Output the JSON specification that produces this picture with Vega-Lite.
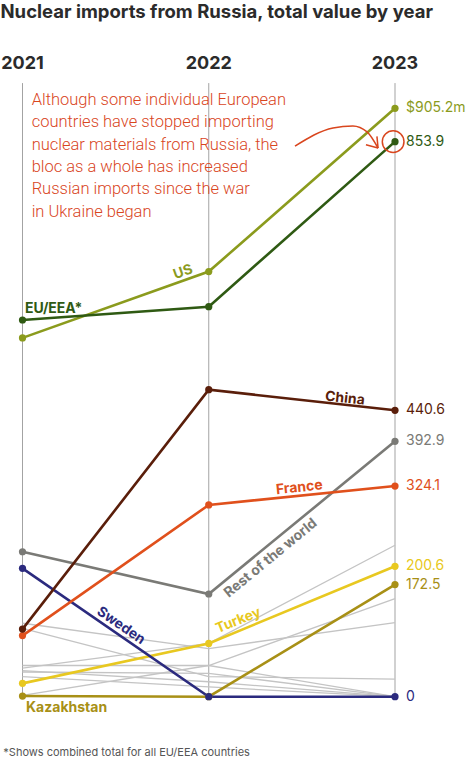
{
  "$schema": "https://vega.github.io/schema/vega-lite/v6.json",
  "width": 474,
  "height": 760,
  "autosize": {"type": "none"},
  "padding": 0,
  "config": {"view": {"stroke": null}, "font": "Inter"},
  "datasets": {
    "years": [{"year": 2021, "label": "2021"}, {"year": 2022, "label": "2022"}, {"year": 2023, "label": "2023"}],
    "others": [
      {"country": "o1", "year": 2021, "value": 113}, {"country": "o1", "year": 2022, "value": 74}, {"country": "o1", "year": 2023, "value": 114},
      {"country": "o2", "year": 2021, "value": 105}, {"country": "o2", "year": 2022, "value": 31}, {"country": "o2", "year": 2023, "value": 27},
      {"country": "o3", "year": 2021, "value": 48}, {"country": "o3", "year": 2022, "value": 48}, {"country": "o3", "year": 2023, "value": 0},
      {"country": "o4", "year": 2021, "value": 44}, {"country": "o4", "year": 2022, "value": 82}, {"country": "o4", "year": 2023, "value": 233},
      {"country": "o5", "year": 2021, "value": 38}, {"country": "o5", "year": 2022, "value": 36}, {"country": "o5", "year": 2023, "value": 0},
      {"country": "o6", "year": 2021, "value": 31}, {"country": "o6", "year": 2022, "value": 15}, {"country": "o6", "year": 2023, "value": 0},
      {"country": "o7", "year": 2021, "value": 2}, {"country": "o7", "year": 2022, "value": 48}, {"country": "o7", "year": 2023, "value": 151},
      {"country": "o8", "year": 2021, "value": 40}, {"country": "o8", "year": 2022, "value": 23}, {"country": "o8", "year": 2023, "value": 0}
    ],
    "lines": [
      {"country": "Kazakhstan", "year": 2021, "value": 1}, {"country": "Kazakhstan", "year": 2022, "value": 0}, {"country": "Kazakhstan", "year": 2023, "value": 172.5},
      {"country": "Turkey", "year": 2021, "value": 20.5}, {"country": "Turkey", "year": 2022, "value": 82}, {"country": "Turkey", "year": 2023, "value": 200.6},
      {"country": "Sweden", "year": 2021, "value": 197.5}, {"country": "Sweden", "year": 2022, "value": 0}, {"country": "Sweden", "year": 2023, "value": 0},
      {"country": "Rest of the world", "year": 2021, "value": 223}, {"country": "Rest of the world", "year": 2022, "value": 158}, {"country": "Rest of the world", "year": 2023, "value": 392.9},
      {"country": "France", "year": 2021, "value": 94}, {"country": "France", "year": 2022, "value": 295}, {"country": "France", "year": 2023, "value": 324.1},
      {"country": "China", "year": 2021, "value": 104}, {"country": "China", "year": 2022, "value": 472.3}, {"country": "China", "year": 2023, "value": 440.6},
      {"country": "US", "year": 2021, "value": 552}, {"country": "US", "year": 2022, "value": 654}, {"country": "US", "year": 2023, "value": 905.2},
      {"country": "EU/EEA", "year": 2021, "value": 579.5}, {"country": "EU/EEA", "year": 2022, "value": 600}, {"country": "EU/EEA", "year": 2023, "value": 853.9}
    ],
    "ends": [
      {"country": "US", "year": 2023, "value": 905.2, "label": "$905.2m"},
      {"country": "EU/EEA", "year": 2023, "value": 853.9, "label": "853.9"},
      {"country": "China", "year": 2023, "value": 440.6, "label": "440.6"},
      {"country": "Rest of the world", "year": 2023, "value": 392.9, "label": "392.9"},
      {"country": "France", "year": 2023, "value": 324.1, "label": "324.1"},
      {"country": "Turkey", "year": 2023, "value": 200.6, "label": "200.6"},
      {"country": "Kazakhstan", "year": 2023, "value": 172.5, "label": "172.5"},
      {"country": "Sweden", "year": 2023, "value": 0, "label": "0"}
    ]
  },
  "layer": [
    {
      "data": {"name": "years"},
      "mark": {"type": "rule", "color": "#a3a3a3", "strokeWidth": 1},
      "encoding": {
        "x": {"field": "year", "type": "quantitative", "scale": {"domain": [2021, 2023], "range": [22.5, 395], "nice": false, "zero": false}, "axis": null},
        "y": {"datum": 0, "type": "quantitative", "scale": {"domain": [0, 905.2], "range": [696.7, 108.3], "nice": false}, "axis": null},
        "y2": {"datum": 944}
      }
    },
    {
      "data": {"name": "years"},
      "mark": {"type": "text", "fontSize": 18, "fontWeight": "bold", "color": "#2b2b2b"},
      "encoding": {
        "x": {"field": "year", "type": "quantitative"},
        "y": {"datum": 974, "type": "quantitative"},
        "text": {"field": "label"}
      }
    },
    {
      "data": {"values": [{"text": "Nuclear imports from Russia, total value by year"}]},
      "mark": {"type": "text", "align": "left", "fontSize": 18.5, "fontWeight": "bold", "color": "#2b2b2b"},
      "encoding": {
        "x": {"datum": 2020.882, "type": "quantitative"},
        "y": {"datum": 1054, "type": "quantitative"},
        "text": {"field": "text"}
      }
    },
    {
      "data": {"name": "others"},
      "mark": {"type": "line", "color": "#c4c4c4", "strokeWidth": 1.3},
      "encoding": {
        "x": {"field": "year", "type": "quantitative"},
        "y": {"field": "value", "type": "quantitative"},
        "detail": {"field": "country"}
      }
    },
    {
      "data": {"name": "lines"},
      "mark": {"type": "line", "strokeWidth": 2.6},
      "encoding": {
        "x": {"field": "year", "type": "quantitative"},
        "y": {"field": "value", "type": "quantitative"},
        "color": {
          "field": "country",
          "type": "nominal",
          "legend": null,
          "scale": {
            "domain": ["US", "EU/EEA", "China", "Rest of the world", "France", "Turkey", "Kazakhstan", "Sweden"],
            "range": ["#8b9b1d", "#2f5a13", "#5a1e0a", "#7a7a76", "#e0501c", "#e8c820", "#a89016", "#2b2a7e"]
          }
        }
      }
    },
    {
      "data": {"name": "lines"},
      "mark": {"type": "circle", "size": 52, "opacity": 1},
      "encoding": {
        "x": {"field": "year", "type": "quantitative"},
        "y": {"field": "value", "type": "quantitative"},
        "color": {"field": "country", "type": "nominal", "legend": null}
      }
    },
    {
      "data": {"name": "ends"},
      "mark": {"type": "text", "align": "left", "dx": 11, "fontSize": 14},
      "encoding": {
        "x": {"field": "year", "type": "quantitative"},
        "y": {"field": "value", "type": "quantitative"},
        "text": {"field": "label"},
        "color": {"field": "country", "type": "nominal", "legend": null}
      }
    },
    {
      "data": {"values": [{"label": "US", "year": 2021.862, "value": 653}]},
      "mark": {"type": "text", "angle": -19.5, "fontSize": 14, "fontWeight": "bold", "color": "#8b9b1d"},
      "encoding": {"x": {"field": "year", "type": "quantitative"}, "y": {"field": "value", "type": "quantitative"}, "text": {"field": "label"}}
    },
    {
      "data": {"values": [{"label": "EU/EEA*", "year": 2021.013, "value": 597}]},
      "mark": {"type": "text", "align": "left", "fontSize": 14, "fontWeight": "bold", "color": "#2f5a13"},
      "encoding": {"x": {"field": "year", "type": "quantitative"}, "y": {"field": "value", "type": "quantitative"}, "text": {"field": "label"}}
    },
    {
      "data": {"values": [{"label": "China", "year": 2022.731, "value": 458.5}]},
      "mark": {"type": "text", "angle": 6, "fontSize": 14, "fontWeight": "bold", "color": "#5a1e0a"},
      "encoding": {"x": {"field": "year", "type": "quantitative"}, "y": {"field": "value", "type": "quantitative"}, "text": {"field": "label"}}
    },
    {
      "data": {"values": [{"label": "France", "year": 2022.486, "value": 321.5}]},
      "mark": {"type": "text", "angle": -6, "fontSize": 14, "fontWeight": "bold", "color": "#e0501c"},
      "encoding": {"x": {"field": "year", "type": "quantitative"}, "y": {"field": "value", "type": "quantitative"}, "text": {"field": "label"}}
    },
    {
      "data": {"values": [{"label": "Rest of the world", "year": 2022.333, "value": 213}]},
      "mark": {"type": "text", "angle": -39.5, "fontSize": 14, "fontWeight": "bold", "color": "#7a7a76"},
      "encoding": {"x": {"field": "year", "type": "quantitative"}, "y": {"field": "value", "type": "quantitative"}, "text": {"field": "label"}}
    },
    {
      "data": {"values": [{"label": "Turkey", "year": 2022.159, "value": 117}]},
      "mark": {"type": "text", "angle": -22, "fontSize": 14, "fontWeight": "bold", "color": "#e8c820"},
      "encoding": {"x": {"field": "year", "type": "quantitative"}, "y": {"field": "value", "type": "quantitative"}, "text": {"field": "label"}}
    },
    {
      "data": {"values": [{"label": "Sweden", "year": 2021.528, "value": 109}]},
      "mark": {"type": "text", "angle": 34.6, "fontSize": 14, "fontWeight": "bold", "color": "#2b2a7e"},
      "encoding": {"x": {"field": "year", "type": "quantitative"}, "y": {"field": "value", "type": "quantitative"}, "text": {"field": "label"}}
    },
    {
      "data": {"values": [{"label": "Kazakhstan", "year": 2021.019, "value": -18}]},
      "mark": {"type": "text", "align": "left", "fontSize": 14, "fontWeight": "bold", "color": "#a89016"},
      "encoding": {"x": {"field": "year", "type": "quantitative"}, "y": {"field": "value", "type": "quantitative"}, "text": {"field": "label"}}
    },
    {
      "data": {"values": [{"note": "Although some individual European\ncountries have stopped importing\nnuclear materials from Russia, the\nbloc as a whole has increased\nRussian imports since the war\nin Ukraine began", "year": 2021.049, "value": 930}]},
      "mark": {"type": "text", "align": "left", "baseline": "top", "lineBreak": "\n", "lineHeight": 22.3, "font": "Roboto", "fontSize": 16.5, "fontWeight": 300, "color": "#d9461e"},
      "encoding": {"x": {"field": "year", "type": "quantitative"}, "y": {"field": "value", "type": "quantitative"}, "text": {"field": "note"}}
    },
    {
      "data": {"values": [
        {"year": 2022.463, "value": 847},
        {"year": 2022.667, "value": 875},
        {"year": 2022.774, "value": 878},
        {"year": 2022.850, "value": 869},
        {"year": 2022.909, "value": 844}
      ]},
      "mark": {"type": "line", "interpolate": "monotone", "color": "#d9461e", "strokeWidth": 1.5},
      "encoding": {"x": {"field": "year", "type": "quantitative"}, "y": {"field": "value", "type": "quantitative"}}
    },
    {
      "data": {"values": [
        {"seg": "a", "year": 2022.844, "value": 849},
        {"seg": "a", "year": 2022.909, "value": 844},
        {"seg": "b", "year": 2022.903, "value": 862},
        {"seg": "b", "year": 2022.909, "value": 844}
      ]},
      "mark": {"type": "line", "color": "#d9461e", "strokeWidth": 1.5},
      "encoding": {"x": {"field": "year", "type": "quantitative"}, "y": {"field": "value", "type": "quantitative"}, "detail": {"field": "seg"}}
    },
    {
      "data": {"values": [{"year": 2022.99, "value": 853.9}]},
      "mark": {"type": "point", "shape": "circle", "filled": false, "size": 470, "color": "#d9461e", "strokeWidth": 1.5, "opacity": 1},
      "encoding": {"x": {"field": "year", "type": "quantitative"}, "y": {"field": "value", "type": "quantitative"}}
    },
    {
      "data": {"values": [{"text": "*Shows combined total for all EU/EEA countries", "year": 2020.897, "value": -87}]},
      "mark": {"type": "text", "align": "left", "fontSize": 11, "color": "#555555"},
      "encoding": {"x": {"field": "year", "type": "quantitative"}, "y": {"field": "value", "type": "quantitative"}, "text": {"field": "text"}}
    }
  ]
}
